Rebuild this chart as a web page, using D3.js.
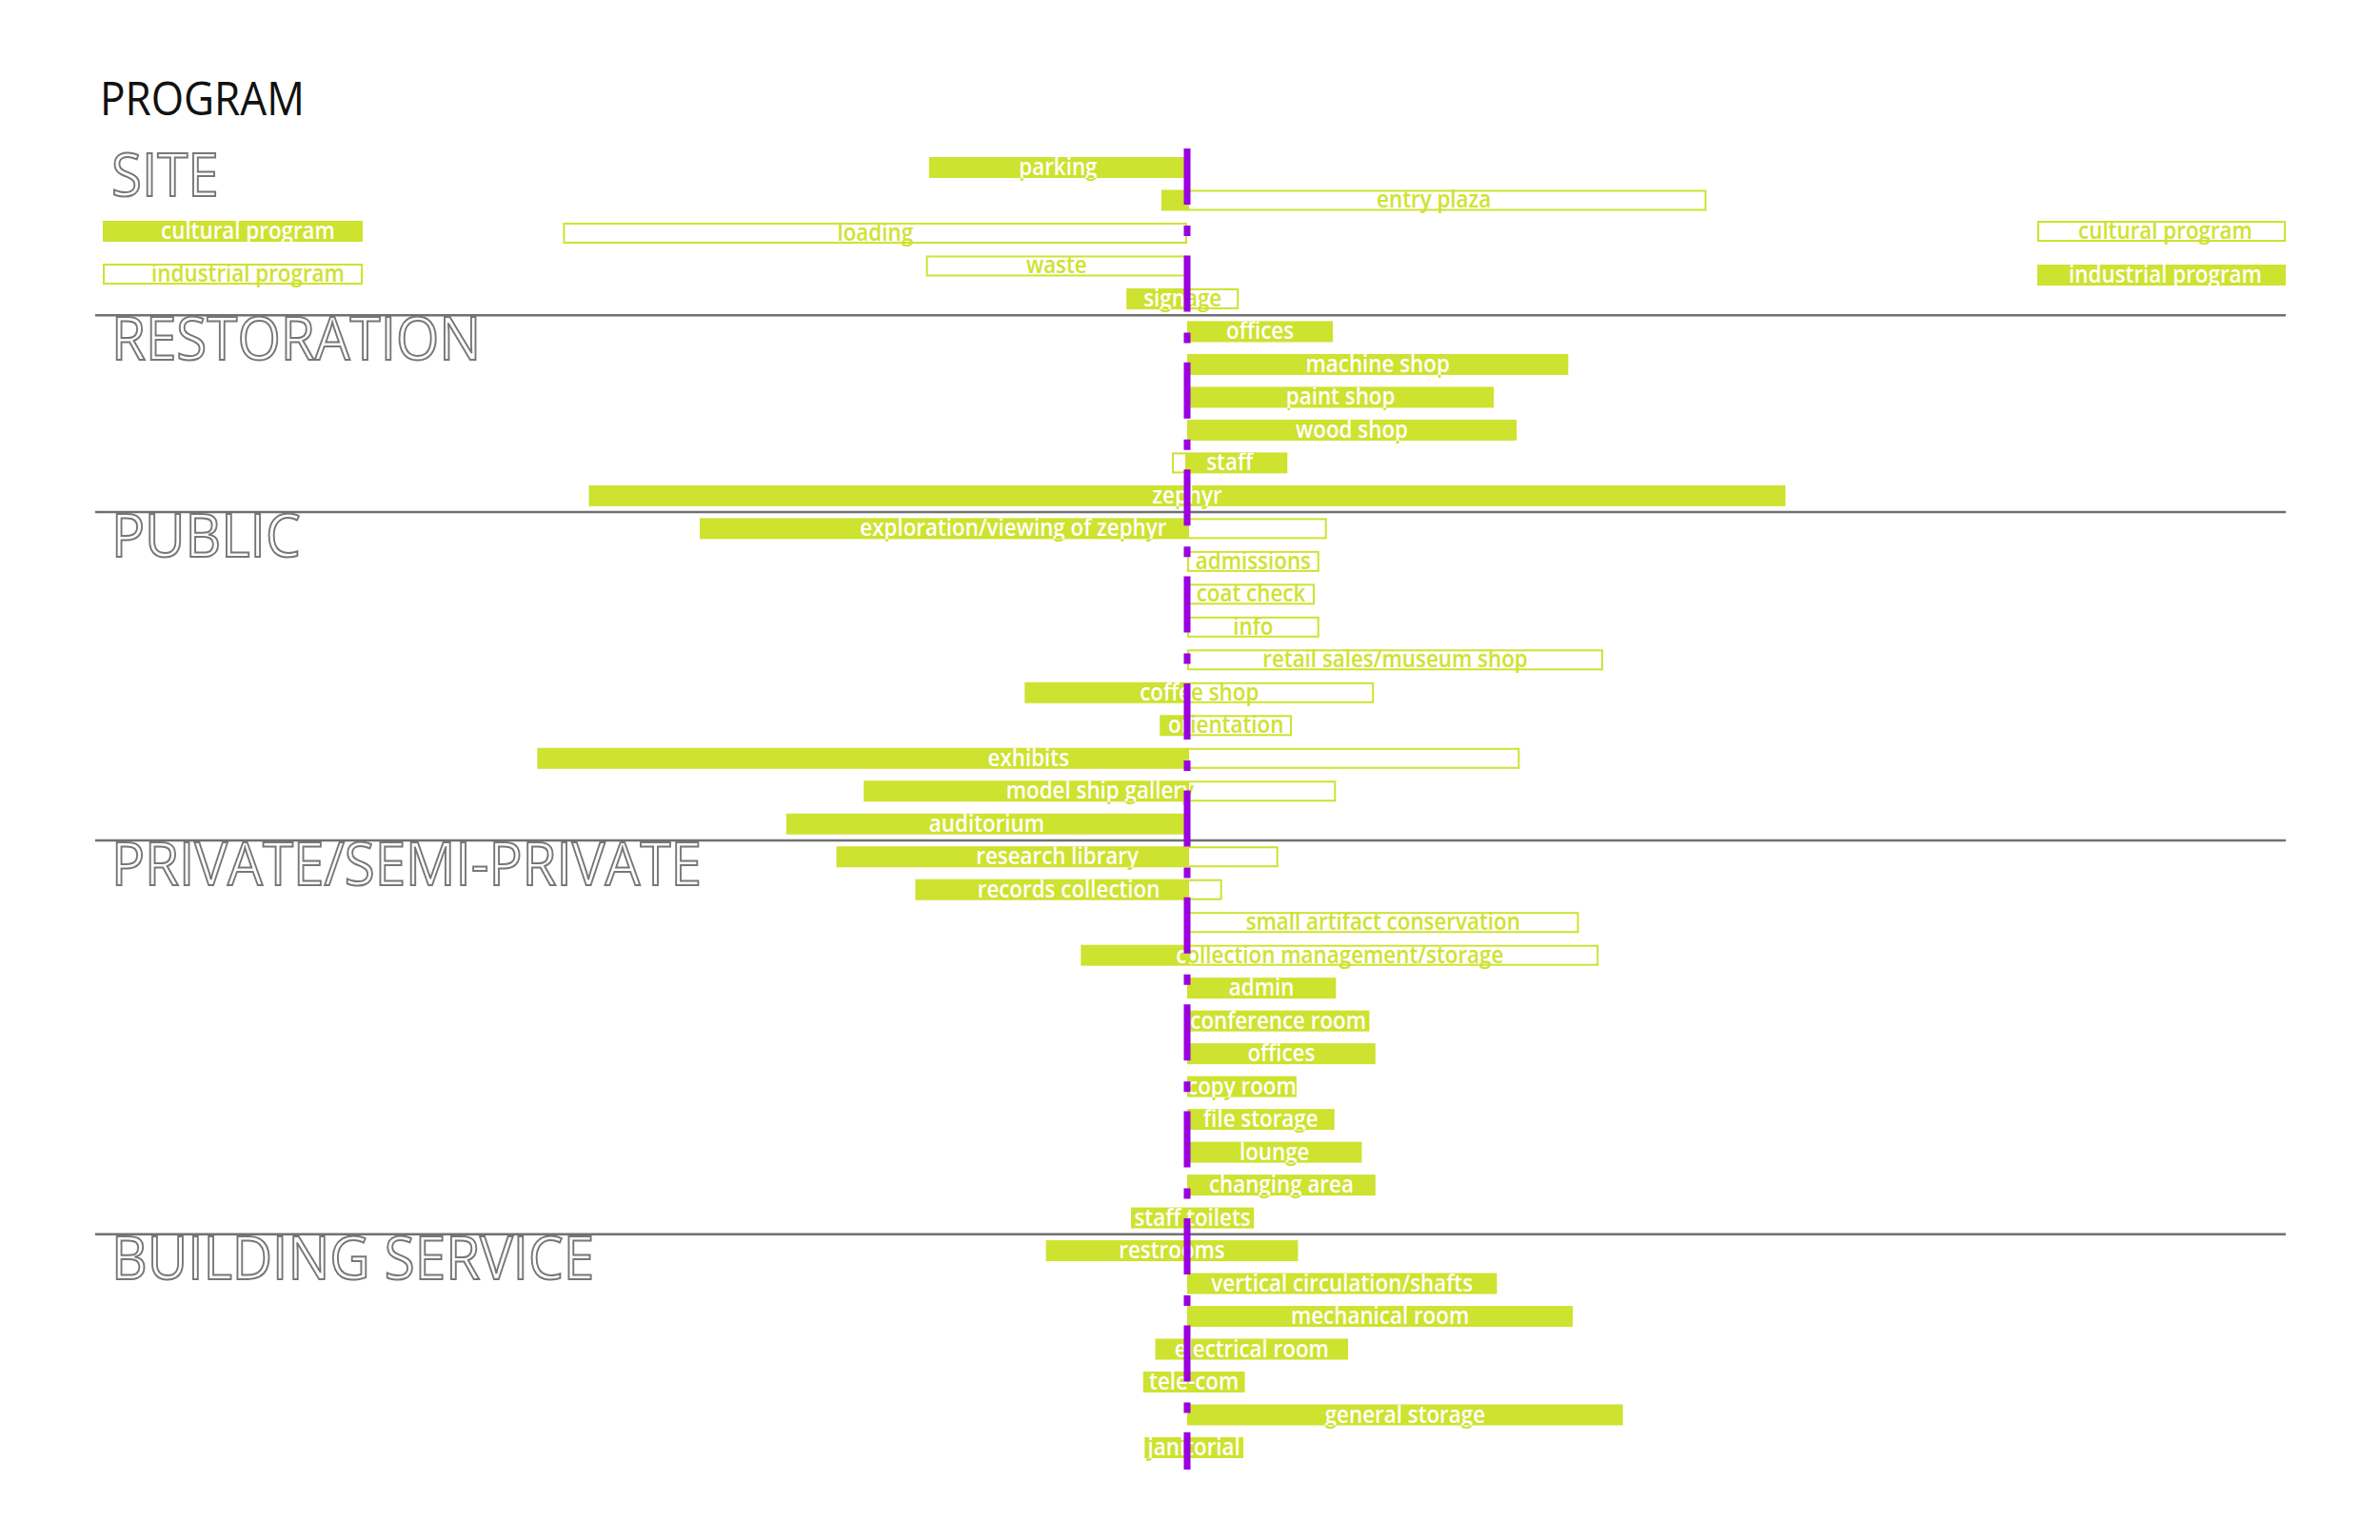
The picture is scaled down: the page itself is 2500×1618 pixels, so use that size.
<!DOCTYPE html>
<html>
<head>
<meta charset="utf-8">
<script src="https://cdn.jsdelivr.net/npm/d3@7"></script>
<style>
  body { margin: 0; background: #fff; }
  text { font-family: "Open Sans", sans-serif; }
</style>
</head>
<body>
<svg id="chart" width="2500" height="1618"></svg>
<script>
// Program rows, top to bottom
var programs = ["parking", "entry plaza", "loading", "waste", "signage",
  "offices", "machine shop", "paint shop", "wood shop", "staff", "zephyr",
  "exploration/viewing of zephyr", "admissions", "coat check", "info", "retail sales/museum shop",
  "coffee shop", "orientation", "exhibits", "model ship gallery", "auditorium",
  "research library", "records collection", "small artifact conservation", "collection management/storage",
  "admin", "conference room", "offices", "copy room", "file storage", "lounge", "changing area", "staff toilets",
  "restrooms", "vertical circulation/shafts", "mechanical room", "electrical room", "tele-com",
  "general storage", "janitorial"];

// Section names and the row each one starts at
var sectionNames = ["SITE", "RESTORATION", "PUBLIC", "PRIVATE/SEMI-PRIVATE", "BUILDING SERVICE"];
var sectionStarts = [0, 5, 11, 21, 33];

// left of the axis: filled = cultural, outline = industrial
var culturalLeft = [1700, 170, 0, 0, 400,
  0, 0, 0, 0, 0, 3940,
  3210, 0, 0, 0, 0, 1070, 180, 4280, 2130, 2640,
  2310, 1790, 0, 700, 0, 0, 0, 0, 0, 0, 0, 370,
  930, 0, 0, 210, 290, 0, 280];
var industrialLeft = [0, 0, 4110, 1720, 0,
  0, 0, 0, 0, 100, 0,
  0, 0, 0, 0, 0, 0, 0, 0, 0, 0,
  0, 0, 0, 0, 0, 0, 0, 0, 0, 0, 0, 0,
  0, 0, 0, 0, 0, 0, 0];

// right of the axis: outline = cultural, filled = industrial
var culturalRight = [0, 3420, 0, 0, 340,
  0, 0, 0, 0, 0, 0,
  920, 870, 840, 870, 2740, 1230, 690, 2190, 980, 0,
  600, 230, 2580, 2710, 0, 0, 0, 0, 0, 0, 0, 0,
  0, 0, 0, 0, 0, 0, 0];
var industrialRight = [0, 0, 0, 0, 0,
  960, 2510, 2020, 2170, 660, 3940,
  0, 0, 0, 0, 0, 0, 0, 0, 0, 0,
  0, 0, 0, 0, 980, 1200, 1240, 720, 970, 1150, 1240, 440,
  730, 2040, 2540, 1060, 380, 2870, 370];

var legendLabels = ["cultural program", "industrial program"];

var GREEN = "#cee230";
var PURPLE = "#9a00e0";
var LINE_GRAY = "#707070";
var BAR_H = 22;

var svg = d3.select("#chart");
var AXIS_X = 1247;

var x = d3.scaleLinear()
    .domain([-4000, 4000])
    .range([AXIS_X - 638, AXIS_X + 638]);

var y = d3.scaleLinear()
    .domain([0, programs.length - 1])
    .range([176, 1521]);

var ROW = y(1) - y(0);

// narrow the glyphs a bit, the original face is condensed
function squeeze(k) {
  return function (sel) {
    sel.each(function () {
      var w = this.getComputedTextLength();
      d3.select(this).attr("textLength", w * k).attr("lengthAdjust", "spacingAndGlyphs");
    });
  };
}

function label(parent, tx, ty, txt, color) {
  return parent.append("text")
    .attr("x", tx).attr("y", ty)
    .attr("text-anchor", "middle")
    .attr("font-size", 26)
    .attr("font-weight", 600)
    .attr("fill", color)
    .text(txt)
    .call(squeeze(0.86));
}

// ##### Title and sections #####

svg.append("text")
  .attr("x", 105).attr("y", 121)
  .attr("font-size", 49)
  .attr("fill", "#111")
  .text("PROGRAM")
  .call(squeeze(0.9));

sectionStarts.forEach(function (s, i) {
  var top = y(s) - ROW / 2;
  if (i > 0) {
    svg.append("line")
      .attr("x1", 100).attr("x2", 2401)
      .attr("y1", top).attr("y2", top)
      .attr("stroke", LINE_GRAY)
      .attr("stroke-width", 2.5);
  }
  svg.append("text")
    .attr("x", 117).attr("y", top + 47)
    .attr("font-size", 62)
    .attr("fill", "#fff")
    .attr("stroke", "#777")
    .attr("stroke-width", 2)
    .text(sectionNames[i])
    .call(squeeze(0.94));
});

// ##### Bars #####

var defs = svg.append("defs");

programs.forEach(function (name, i) {
  var cy = y(i);
  var top = cy - BAR_H / 2;
  var g = svg.append("g").attr("class", "row");
  var filled = [];
  var outlined = [];

  if (culturalLeft[i] > 0) filled.push([x(-culturalLeft[i]), x(0)]);
  if (industrialRight[i] > 0) filled.push([x(0), x(industrialRight[i])]);
  if (industrialLeft[i] > 0) outlined.push([x(-industrialLeft[i]), x(0)]);
  if (culturalRight[i] > 0) outlined.push([x(0), x(culturalRight[i])]);

  outlined.forEach(function (b) {
    g.append("rect")
      .attr("x", b[0] + 1).attr("y", top + 1)
      .attr("width", b[1] - b[0] - 2).attr("height", BAR_H - 2)
      .attr("fill", "#fff")
      .attr("stroke", GREEN)
      .attr("stroke-width", 2);
  });

  var clip = defs.append("clipPath").attr("id", "clip-" + i);
  filled.forEach(function (b) {
    g.append("rect")
      .attr("x", b[0]).attr("y", top)
      .attr("width", b[1] - b[0]).attr("height", BAR_H)
      .attr("fill", GREEN);
    clip.append("rect")
      .attr("x", b[0]).attr("y", top)
      .attr("width", b[1] - b[0]).attr("height", BAR_H);
  });

  // label sits in the middle of the whole row extent
  var all = filled.concat(outlined);
  var lo = d3.min(all, function (b) { return b[0]; });
  var hi = d3.max(all, function (b) { return b[1]; });
  var lx = (lo + hi) / 2;

  label(g, lx, cy + 8, name, GREEN);
  label(g, lx, cy + 8, name, "#fff")
    .attr("clip-path", "url(#clip-" + i + ")");
});

// ##### Axis #####

svg.append("line")
  .attr("x1", AXIS_X).attr("x2", AXIS_X)
  .attr("y1", 156).attr("y2", 1544)
  .attr("stroke", PURPLE)
  .attr("stroke-width", 7)
  .attr("stroke-dasharray", "59 22 11 20.4");

// ##### Legends #####

function legendBar(x0, x1, cy, solid, txt, shift) {
  var top = cy - BAR_H / 2;
  if (solid) {
    svg.append("rect")
      .attr("x", x0).attr("y", top).attr("width", x1 - x0).attr("height", BAR_H)
      .attr("fill", GREEN);
  } else {
    svg.append("rect")
      .attr("x", x0 + 1).attr("y", top + 1).attr("width", x1 - x0 - 2).attr("height", BAR_H - 2)
      .attr("fill", "#fff").attr("stroke", GREEN).attr("stroke-width", 2);
  }
  label(svg, (x0 + x1) / 2 + shift, cy + 8, txt, solid ? "#fff" : GREEN);
}

legendBar(108, 381, 243, true, legendLabels[0], 16);
legendBar(108, 381, 288, false, legendLabels[1], 16);
legendBar(2140, 2401, 243, false, legendLabels[0], 4);
legendBar(2140, 2401, 289, true, legendLabels[1], 4);
</script>
</body>
</html>
